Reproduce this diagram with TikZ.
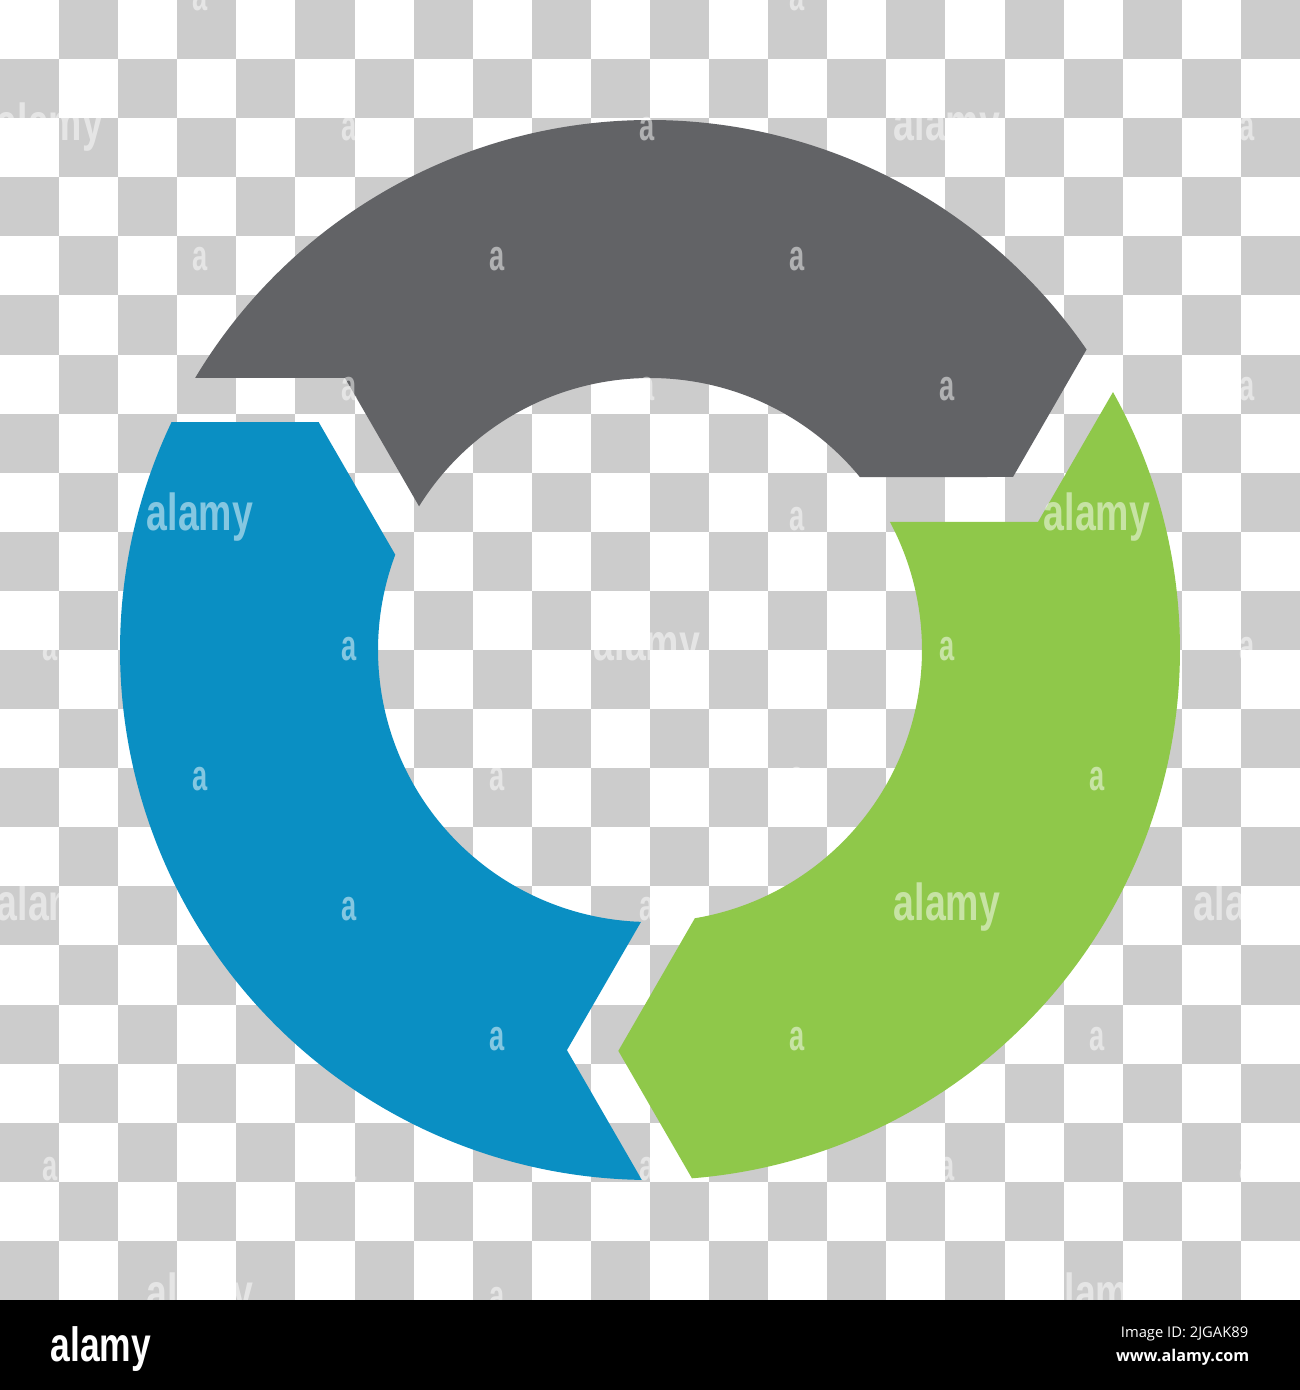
\documentclass[tikz,border=0pt]{standalone}
\usepackage{fontspec}
\usepackage{tikz}
\usetikzlibrary{positioning}

\newfontfamily\wmfont{Liberation Sans}
\newfontfamily\idfont{Open Sans}

\definecolor{ringgray}{RGB}{98,99,102}
\definecolor{ringblue}{RGB}{10,143,195}
\definecolor{ringgreen}{RGB}{143,200,74}
\definecolor{checkgray}{RGB}{204,204,204}

% one arrow piece of the ring, turned about the centre
\newcommand\ringpiece[2]{%
  \fill[#1, rotate=#2] (149.12:530) arc[start angle=149.12, end angle=34.54, radius=530]
    -- (363,173) -- (39.49:272) arc[start angle=39.49, end angle=148.11, radius=272]
    -- (-305,272) -- cycle;}

\begin{document}
\begin{tikzpicture}[
    x=0.01cm, y=0.01cm,
    checker/.style={fill=checkgray},
    wm-a/.style={anchor=base, inner sep=0, text=white, text opacity=0.5, xscale=0.63,
        font={\wmfont\bfseries\fontsize{12.3}{13}\selectfont}},
    wm-alamy/.style={anchor=base, inner sep=0, text=white, text opacity=0.5, xscale=0.72,
        font={\wmfont\bfseries\fontsize{14.8}{16}\selectfont}},
    footer/.style={inner sep=0, text=white}
]
\useasboundingbox (0,0) rectangle (1300,1390);

% Transparent-look background
\fill[white] (0,90) rectangle (1300,1390);
\def\sq{59.0909}
\foreach \i in {0,...,21} {
  \pgfmathtruncatemacro\off{mod(\i+1,2)}
  \foreach \j in {0,...,10}
    \fill[checker] ({(2*\j+\off)*\sq},{1390-(\i+1)*\sq}) rectangle +(\sq,\sq);
}

% Ring of three arrows
\begin{scope}[shift={(650,740)}]
  \ringpiece{ringgray}{0}
  \ringpiece{ringgreen}{-120}
  \ringpiece{ringblue}{120}
\end{scope}

% Watermarks
\begin{scope}
  \clip (0,90) rectangle (1300,1390);
  \foreach \x/\y/\w in {
      200/-2/a, 497/-2/a, 797/-2/a, 1097/-2/a,
      50/128/alamy, 349/128/a, 647/128/a, 947/128/alamy, 1247/128/a,
      200/258/a, 497/258/a, 797/258/a, 1097/258/a,
      50/388/a, 349/388/a, 647/388/a, 947/388/a, 1247/388/a,
      200/518/alamy, 497/518/a, 797/518/a, 1097/518/alamy,
      50/648/a, 349/648/a, 647/648/alamy, 947/648/a, 1247/648/a,
      200/778/a, 497/778/a, 797/778/a, 1097/778/a,
      50/908/alamy, 349/908/a, 647/908/a, 947/908/alamy, 1247/908/alamy,
      200/1038/a, 497/1038/a, 797/1038/a, 1097/1038/a,
      50/1168/a, 349/1168/a, 647/1168/a, 947/1168/a, 1247/1168/a,
      200/1298/alamy, 497/1298/a, 797/1298/a, 1097/1298/alamy}
    \node[wm-\w] (wm-\x-\y) at ({\x},{1377-(\y)}) {\w};
\end{scope}

% Footer bar
\fill[black] (0,0) rectangle (1300,90);
\node[footer, anchor=base west, xscale=0.735,
      font={\wmfont\bfseries\fontsize{13.7}{15}\selectfont}] (logo) at (50,28) {alamy};
\node[footer, anchor=base east, font={\idfont\fontsize{4.2}{5}\selectfont}] (imgid) at (1249,53) {Image ID: 2JGAK89};
\node[footer, anchor=base east, font={\idfont\bfseries\fontsize{4.6}{5}\selectfont}] (site) at (1250,28) {www.alamy.com};

\end{tikzpicture}
\end{document}
